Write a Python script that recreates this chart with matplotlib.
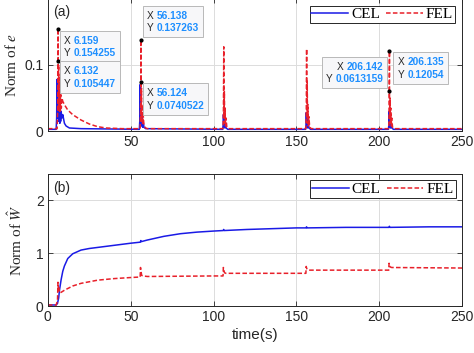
import matplotlib
matplotlib.use('Agg')
import matplotlib.pyplot as plt
from matplotlib.transforms import offset_copy, Bbox
from matplotlib.patches import Rectangle

# ---- data ----
# (a) norm of e
t_cel_e = [0, 5.0, 5.3, 5.5, 5.8, 6.2, 6.6, 6.95, 7.2, 7.45, 7.7, 8.0, 8.5, 9.0, 10, 11, 13, 20,
           55.2, 55.45, 55.6, 56.0, 56.3, 56.6, 56.9, 57.2, 57.5, 58, 59,
           105.5, 105.8, 105.95, 106.25, 106.55, 106.8, 107.1, 107.6, 108.5,
           155.5, 155.8, 155.95, 156.25, 156.55, 156.8, 157.1, 157.6, 158.5,
           205.5, 205.8, 205.95, 206.25, 206.55, 206.8, 207.1, 207.6, 208.5, 250]
cel_e = [0.003, 0.003, 0.02, 0.078, 0.02, 0.055, 0.015, 0.045, 0.012, 0.035, 0.015, 0.03, 0.02, 0.025, 0.012, 0.008, 0.005, 0.004,
         0.003, 0.015, 0.07, 0.01, 0.03, 0.008, 0.022, 0.006, 0.015, 0.006, 0.004,
         0.003, 0.01, 0.025, 0.006, 0.018, 0.005, 0.012, 0.005, 0.003,
         0.003, 0.01, 0.028, 0.006, 0.02, 0.005, 0.013, 0.005, 0.003,
         0.003, 0.01, 0.03, 0.006, 0.02, 0.005, 0.014, 0.005, 0.003, 0.003]

t_fel_e = [0, 5.6, 5.9, 6.132, 6.159, 6.35, 6.5, 6.7, 6.9, 7.1, 7.3, 7.55, 7.8, 8.1, 8.5, 9, 10, 12, 15, 20, 25, 30, 35, 45,
           55.7, 55.95, 56.124, 56.138, 56.3, 56.5, 56.7, 56.9, 57.2, 57.5, 58, 59, 60,
           105.7, 105.95, 106.15, 106.3, 106.5, 106.7, 106.9, 107.2, 107.5, 108, 109,
           155.7, 155.95, 156.15, 156.3, 156.5, 156.7, 156.9, 157.2, 157.5, 158, 159,
           205.7, 205.95, 206.135, 206.142, 206.3, 206.5, 206.7, 206.9, 207.2, 207.5, 208, 209, 250]
fel_e = [0.004, 0.004, 0.03, 0.105447, 0.154255, 0.03, 0.1, 0.035, 0.08, 0.03, 0.06, 0.03, 0.055, 0.035, 0.05, 0.045, 0.04, 0.032, 0.025, 0.017, 0.011, 0.007, 0.005, 0.004,
         0.004, 0.03, 0.0740522, 0.137263, 0.02, 0.065, 0.015, 0.04, 0.01, 0.025, 0.008, 0.005, 0.004,
         0.004, 0.03, 0.127, 0.02, 0.06, 0.012, 0.035, 0.008, 0.02, 0.006, 0.004,
         0.004, 0.03, 0.124, 0.02, 0.075, 0.012, 0.04, 0.008, 0.022, 0.006, 0.004,
         0.004, 0.03, 0.12054, 0.0613159, 0.02, 0.05, 0.012, 0.035, 0.008, 0.02, 0.006, 0.004, 0.004]

# (b) norm of W hat
t_cel_w = [0, 5, 5.8, 6.5, 7, 8, 9, 10, 12, 15, 20, 25, 30, 40, 50, 55.8, 56.1, 56.4, 60, 70, 80, 90, 100,
           105.8, 106.1, 106.4, 120, 150, 155.8, 156.1, 156.4, 180, 200, 205.8, 206.1, 206.4, 230, 250]
cel_w = [0.02, 0.02, 0.05, 0.15, 0.3, 0.5, 0.66, 0.76, 0.9, 0.99, 1.06, 1.09, 1.11, 1.15, 1.19, 1.21, 1.24, 1.22, 1.25, 1.32, 1.37, 1.40, 1.42,
         1.43, 1.45, 1.43, 1.45, 1.48, 1.48, 1.50, 1.48, 1.49, 1.49, 1.49, 1.51, 1.49, 1.50, 1.50]

t_fel_w = [0, 5, 5.8, 6.1, 6.3, 6.6, 7, 8, 10, 15, 20, 30, 40, 50, 55.7,
           55.9, 56.2, 56.6, 57.5, 60, 100, 105.7, 105.9, 106.2, 106.6, 107.5, 150, 155.7,
           155.9, 156.2, 156.6, 157.5, 205.7, 205.9, 206.2, 206.6, 207.5, 250]
fel_w = [0.02, 0.02, 0.1, 0.45, 0.3, 0.35, 0.25, 0.26, 0.3, 0.38, 0.43, 0.49, 0.52, 0.54, 0.55,
         0.73, 0.66, 0.58, 0.57, 0.56, 0.57, 0.57, 0.73, 0.68, 0.63, 0.62, 0.62, 0.62,
         0.75, 0.71, 0.69, 0.68, 0.68, 0.81, 0.76, 0.74, 0.73, 0.72]

# data tips on panel (a)
tips_x = [6.159, 6.132, 56.138, 56.124, 206.142, 206.135]
tips_y = [0.154255, 0.105447, 0.137263, 0.0740522, 0.0613159, 0.12054]
tips_xs = ['6.159', '6.132', '56.138', '56.124', '206.142', '206.135']
tips_ys = ['0.154255', '0.105447', '0.137263', '0.0740522', '0.0613159', '0.12054']
# box corner relative to the tip, in pixels (x: left edge, or right edge if right-aligned; y: top edge, up +)
tips_box = [(2, -2), (2, 0), (2, 34), (2, -1), (-2, 34), (4, -1)]
tips_right = [False, False, False, False, True, False]

blue = '#1a1ae6'
red = '#e8202a'
dark = '#262626'
tipblue = '#1e8fff'
sans = ['Liberation Sans', 'DejaVu Sans']
serif = ['Liberation Serif', 'DejaVu Serif']

plt.rcParams['font.family'] = sans
plt.rcParams['font.size'] = 10
plt.rcParams['mathtext.fontset'] = 'stix'

fig = plt.figure(figsize=(4.74, 3.53), dpi=100)
ax1 = fig.add_axes([0.101, 0.628, 0.874, 0.377])
ax2 = fig.add_axes([0.101, 0.133, 0.874, 0.374])

for ax in (ax1, ax2):
    ax.set_xlim(0, 250)
    ax.grid(True, color='#dcdcdc', linewidth=0.7)
    ax.set_axisbelow(True)
    ax.tick_params(direction='in', top=True, right=True, length=3.5, width=0.6,
                   colors=dark, labelsize=10, pad=3)
    for s in ax.spines.values():
        s.set_color(dark)
        s.set_linewidth(0.7)

# panel (a)
l1, = ax1.plot(t_cel_e, cel_e, color=blue, lw=1.1, label='CEL')
l2, = ax1.plot(t_fel_e, fel_e, color=red, lw=1.1, ls='--', dashes=(3, 1.5), label='FEL')
ax1.set_ylim(0, 0.2)
ax1.set_yticks([0, 0.1, 0.2])
ax1.set_yticklabels(['0', '0.1', ''])
ax1.set_xticks([50, 100, 150, 200, 250])
ax1.set_ylabel('Norm of $e$', family=serif, fontsize=11, color=dark, labelpad=4)
ax1.text(0.012, 0.95, '(a)', transform=ax1.transAxes, fontsize=10, color=dark, va='top')
ax1.plot(tips_x, tips_y, 'o', color='k', ms=2, zorder=5)

renderer = fig.canvas.get_renderer()


def datatip(ax, x, y, xs, ys, bx, by, right):
    texts = []
    for k, (lab, val) in enumerate([('X', xs), ('Y', ys)]):
        oy = by - 5 - k * 12.5
        if not right:
            t1 = ax.text(x, y, lab, transform=offset_copy(ax.transData, fig, bx + 4, oy, units='dots'),
                         ha='left', va='top', fontsize=7.3, color=dark, zorder=8)
            w = t1.get_window_extent(renderer).width
            t2 = ax.text(x, y, val, transform=offset_copy(ax.transData, fig, bx + 4 + w + 3, oy, units='dots'),
                         ha='left', va='top', fontsize=7.3, color=tipblue, fontweight='bold', zorder=8)
        else:
            t2 = ax.text(x, y, val, transform=offset_copy(ax.transData, fig, bx - 4, oy, units='dots'),
                         ha='right', va='top', fontsize=7.3, color=tipblue, fontweight='bold', zorder=8)
            w = t2.get_window_extent(renderer).width
            t1 = ax.text(x, y, lab, transform=offset_copy(ax.transData, fig, bx - 4 - w - 3, oy, units='dots'),
                         ha='right', va='top', fontsize=7.3, color=dark, zorder=8)
        texts += [t1, t2]
    bb = Bbox.union([t.get_window_extent(renderer) for t in texts])
    px, py = ax.transData.transform((x, y))
    top = py + by
    x0, x1 = bb.x0 - 4, bb.x1 + 4
    y0 = bb.y0 - 4
    inv = fig.transFigure.inverted()
    (fx0, fy0), (fx1, fy1) = inv.transform([(x0, y0), (x1, top)])
    ax.add_patch(Rectangle((fx0, fy0), fx1 - fx0, fy1 - fy0, transform=fig.transFigure,
                           fc='#f7f7f9', ec='#b8b8b8', lw=0.7, zorder=7, clip_on=False))


for x, y, xs, ys, (bx, by), right in zip(tips_x, tips_y, tips_xs, tips_ys, tips_box, tips_right):
    datatip(ax1, x, y, xs, ys, bx, by, right)

leg1 = ax1.legend(handles=[l1, l2], loc='upper right', ncol=2, frameon=True, fancybox=False,
                  prop={'family': serif, 'size': 11}, handlelength=2.4, handletextpad=0.2,
                  columnspacing=0.4, borderpad=0.1, borderaxespad=0.5, framealpha=1)
leg1.get_frame().set_edgecolor(dark)
leg1.get_frame().set_linewidth(0.7)

# panel (b)
m1, = ax2.plot(t_cel_w, cel_w, color=blue, lw=1.1, label='CEL')
m2, = ax2.plot(t_fel_w, fel_w, color=red, lw=1.1, ls='--', dashes=(3, 1.5), label='FEL')
ax2.set_ylim(0, 2.5)
ax2.set_yticks([0, 1, 2])
ax2.set_xticks([0, 50, 100, 150, 200, 250])
ax2.set_ylabel(r'Norm of $\hat{W}$', family=serif, fontsize=11, color=dark, labelpad=8)
ax2.set_xlabel('time(s)', fontsize=11, color=dark, labelpad=3)
ax2.text(0.012, 0.95, '(b)', transform=ax2.transAxes, fontsize=10, color=dark, va='top')
leg2 = ax2.legend(handles=[m1, m2], loc='upper right', ncol=2, frameon=True, fancybox=False,
                  prop={'family': serif, 'size': 11}, handlelength=2.4, handletextpad=0.2,
                  columnspacing=0.4, borderpad=0.15, borderaxespad=0.4, framealpha=1)
leg2.get_frame().set_edgecolor(dark)
leg2.get_frame().set_linewidth(0.7)

fig.savefig('out.png', dpi=100)
